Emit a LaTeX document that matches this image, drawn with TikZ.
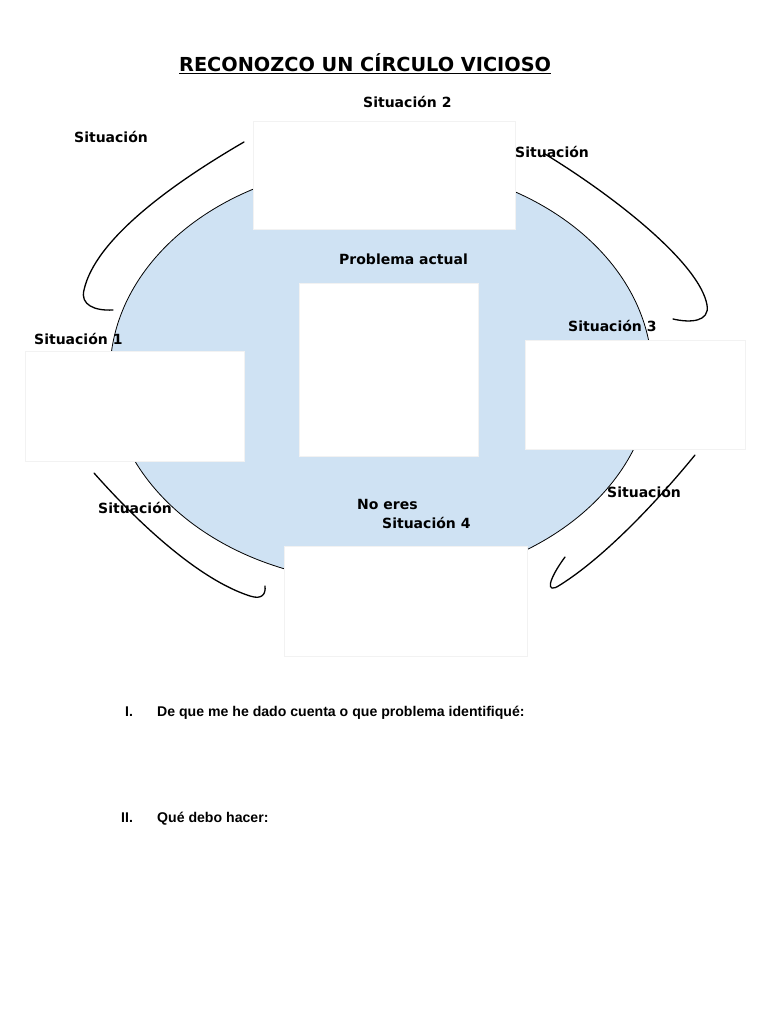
\documentclass[tikz,border=0pt]{standalone}
\usepackage{fontspec}
\setmainfont{DejaVu Sans}
\newfontfamily\arialfont{Liberation Sans}
\definecolor{ellblue}{RGB}{207,226,243}
\definecolor{boxedge}{RGB}{242,242,242}
\begin{document}
\begin{tikzpicture}[x=1pt,y=-1pt,
  lbl/.style={font=\bfseries\fontsize{14}{16}\selectfont, inner sep=0pt, anchor=base west},
  qtext/.style={font=\arialfont\bfseries\fontsize{14.1}{16}\selectfont, inner sep=0pt, anchor=base west},
  blank/.style={draw=boxedge, fill=white, line width=0.6pt},
  loop/.style={draw=black, line width=1.3pt, line cap=round}]
\useasboundingbox[fill=white] (0,0) rectangle (768,1024);
% title
\node[font=\bfseries\fontsize{19.3}{22}\selectfont, inner sep=0pt, anchor=base west] (title) at (179,72) {\underline{RECONOZCO UN CÍRCULO VICIOSO}};
% ellipse
\draw[fill=ellblue, draw=black, line width=0.8pt] (381,373.5) ellipse [x radius=271, y radius=209];
% boxes
\path[blank] (253,121) rectangle (515,229);
\path[blank] (299,283) rectangle (478,456);
\path[blank] (25,351) rectangle (244,461);
\path[blank] (525,340) rectangle (745,449);
\path[blank] (284,546) rectangle (527,656);
% curved loops
\coordinate (a1) at (244,142); \coordinate (a2) at (113,310);
\draw[loop] (a1) .. controls (170,185) and (95,240) .. (84,290) .. controls (80,305) and (95,311) .. (a2);
\coordinate (b1) at (545,154); \coordinate (b2) at (673,319);
\draw[loop] (b1) .. controls (620,200) and (700,265) .. (707,305) .. controls (710,322) and (690,323) .. (b2);
\coordinate (c1) at (94,473); \coordinate (c2) at (265,586);
\draw[loop] (c1) .. controls (140,525) and (200,580) .. (250,596) .. controls (262,600) and (266,594) .. (c2);
\coordinate (d1) at (695,455); \coordinate (d2) at (565,557);
\draw[loop] (d1) .. controls (650,510) and (600,560) .. (560,585) .. controls (545,595) and (548,580) .. (d2);
% labels
\node[lbl] (s2) at (363,108) {Situación 2};
\node[lbl] (stl) at (74,143) {Situación};
\node[lbl] (str) at (515,158) {Situación};
\node[lbl] (pa) at (339,264) {Problema actual};
\node[lbl] (s3) at (568,331) {Situación 3};
\node[lbl] (s1) at (34,344) {Situación 1};
\node[lbl] (sbl) at (98,513) {Situación};
\node[lbl] (ne) at (357,509) {No eres};
\node[lbl] (s4) at (382,528) {Situación 4};
\node[lbl] (sbr) at (607,497) {Situación};
% questions
\node[qtext] (q1n) at (125,716) {I.};
\node[qtext] (q1) at (157,716) {De que me he dado cuenta o que problema identifiqué:};
\node[qtext] (q2n) at (121,822) {II.};
\node[qtext] (q2) at (157,822) {Qué debo hacer:};
\end{tikzpicture}
\end{document}
